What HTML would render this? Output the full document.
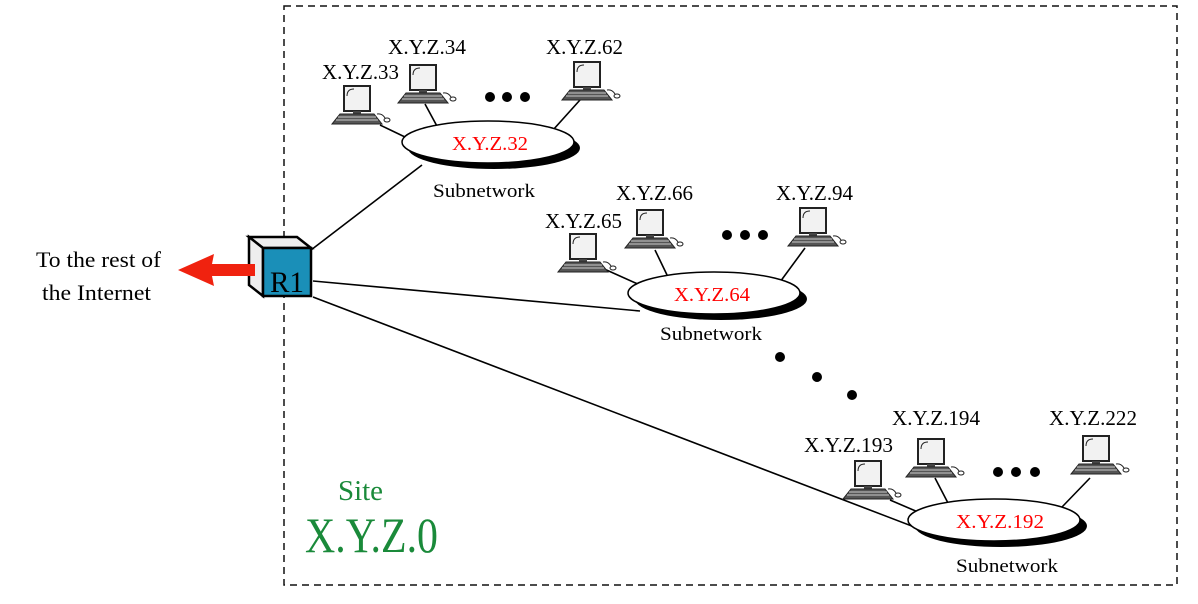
<!DOCTYPE html>
<html><head><meta charset="utf-8"><style>body{margin:0;background:#fff}svg{display:block}</style></head><body>
<svg width="1198" height="604" viewBox="0 0 1198 604" xmlns="http://www.w3.org/2000/svg" font-family="Liberation Serif, serif">
<defs>
<g id="pc">
<rect x="0" y="0" width="26" height="25" fill="#f2f2f2" stroke="#222" stroke-width="2"/>
<path d="M3 10 Q3 3 10 3" stroke="#222" fill="none" stroke-width="1"/>
<rect x="9" y="25" width="8" height="3" fill="#444"/>
<path d="M-4 28 L30 28 L38 38 L-12 38 Z" fill="#555" stroke="#222" stroke-width="1"/>
<path d="M-6 31 L32 31 M-8 34 L34 34" stroke="#ccc" stroke-width="1"/>
<ellipse cx="43" cy="34" rx="3" ry="2" fill="none" stroke="#222" stroke-width="1"/>
<path d="M33 28 Q38 27 41 32" fill="none" stroke="#222" stroke-width="1"/>
</g>
</defs>
<rect x="284" y="6" width="893" height="579" fill="none" stroke="#111" stroke-width="1.5" stroke-dasharray="7,5"/>
<g stroke="#000" stroke-width="1.6" fill="none">
<line x1="311" y1="250" x2="422" y2="165"/>
<line x1="313" y1="281" x2="640" y2="311"/>
<line x1="313" y1="297" x2="930" y2="533"/>
<line x1="380" y1="125" x2="405" y2="137"/>
<line x1="425" y1="104" x2="438" y2="128"/>
<line x1="580" y1="100" x2="553" y2="130"/>
<line x1="602" y1="268" x2="640" y2="285"/>
<line x1="655" y1="250" x2="668" y2="277"/>
<line x1="805" y1="248" x2="780" y2="282"/>
<line x1="890" y1="500" x2="918" y2="512"/>
<line x1="935" y1="478" x2="948" y2="503"/>
<line x1="1090" y1="478" x2="1062" y2="507"/>
</g>
<ellipse cx="494" cy="148" rx="86" ry="21" fill="#000"/>
<ellipse cx="488" cy="142" rx="86" ry="21" fill="#fff" stroke="#000" stroke-width="1.5"/>
<text x="452" y="150" font-size="20" fill="#f00" textLength="76" lengthAdjust="spacingAndGlyphs">X.Y.Z.32</text>
<text x="433" y="197" font-size="19" textLength="102" lengthAdjust="spacingAndGlyphs">Subnetwork</text>
<ellipse cx="721" cy="299" rx="86" ry="21" fill="#000"/>
<ellipse cx="714" cy="293" rx="86" ry="21" fill="#fff" stroke="#000" stroke-width="1.5"/>
<text x="674" y="301" font-size="20" fill="#f00" textLength="76" lengthAdjust="spacingAndGlyphs">X.Y.Z.64</text>
<text x="660" y="340" font-size="19" textLength="102" lengthAdjust="spacingAndGlyphs">Subnetwork</text>
<ellipse cx="1001" cy="526" rx="86" ry="21" fill="#000"/>
<ellipse cx="994" cy="520" rx="86" ry="21" fill="#fff" stroke="#000" stroke-width="1.5"/>
<text x="956" y="528" font-size="20" fill="#f00" textLength="88" lengthAdjust="spacingAndGlyphs">X.Y.Z.192</text>
<text x="956" y="572" font-size="19" textLength="102" lengthAdjust="spacingAndGlyphs">Subnetwork</text>
<use href="#pc" x="344" y="86"/>
<use href="#pc" x="410" y="65"/>
<use href="#pc" x="574" y="62"/>
<use href="#pc" x="570" y="234"/>
<use href="#pc" x="637" y="210"/>
<use href="#pc" x="800" y="208"/>
<use href="#pc" x="855" y="461"/>
<use href="#pc" x="918" y="439"/>
<use href="#pc" x="1083" y="436"/>
<g font-size="21" lengthAdjust="spacingAndGlyphs">
<text x="322" y="79" textLength="77" lengthAdjust="spacingAndGlyphs">X.Y.Z.33</text>
<text x="388" y="54" textLength="78" lengthAdjust="spacingAndGlyphs">X.Y.Z.34</text>
<text x="546" y="54" textLength="77" lengthAdjust="spacingAndGlyphs">X.Y.Z.62</text>
<text x="545" y="228" textLength="77" lengthAdjust="spacingAndGlyphs">X.Y.Z.65</text>
<text x="616" y="200" textLength="77" lengthAdjust="spacingAndGlyphs">X.Y.Z.66</text>
<text x="776" y="200" textLength="77" lengthAdjust="spacingAndGlyphs">X.Y.Z.94</text>
<text x="804" y="452" textLength="89" lengthAdjust="spacingAndGlyphs">X.Y.Z.193</text>
<text x="892" y="425" textLength="88" lengthAdjust="spacingAndGlyphs">X.Y.Z.194</text>
<text x="1049" y="425" textLength="88" lengthAdjust="spacingAndGlyphs">X.Y.Z.222</text>
</g>
<g fill="#000">
<circle cx="490" cy="97" r="5"/><circle cx="507" cy="97" r="5"/><circle cx="525" cy="97" r="5"/>
<circle cx="727" cy="235" r="5"/><circle cx="745" cy="235" r="5"/><circle cx="763" cy="235" r="5"/>
<circle cx="998" cy="472" r="5"/><circle cx="1016" cy="472" r="5"/><circle cx="1035" cy="472" r="5"/>
<circle cx="780" cy="357" r="5"/><circle cx="817" cy="377" r="5"/><circle cx="852" cy="395" r="5"/>
</g>
<path d="M249 237 L297 237 L311 248 L263 248 Z" fill="#eee" stroke="#000" stroke-width="2.5"/>
<path d="M249 237 L263 248 L263 296 L249 285 Z" fill="#eee" stroke="#000" stroke-width="2.5"/>
<rect x="263" y="248" width="48" height="48" fill="#1a8fb8" stroke="#000" stroke-width="2.5"/>
<text x="270" y="292" font-size="30" textLength="34" lengthAdjust="spacingAndGlyphs">R1</text>
<path d="M255 264 L212 264 L214 254 L178 270 L214 286 L212 276 L255 276 Z" fill="#f0220f"/>
<text x="36" y="267" font-size="22" textLength="125" lengthAdjust="spacingAndGlyphs">To the rest of</text>
<text x="42" y="300" font-size="22" textLength="109" lengthAdjust="spacingAndGlyphs">the Internet</text>
<text x="338" y="500" font-size="28" fill="#1a8a3a" textLength="45" lengthAdjust="spacingAndGlyphs">Site</text>
<text x="305" y="552" font-size="50" fill="#1a8a3a" textLength="133" lengthAdjust="spacingAndGlyphs">X.Y.Z.0</text>
</svg>
</body></html>
